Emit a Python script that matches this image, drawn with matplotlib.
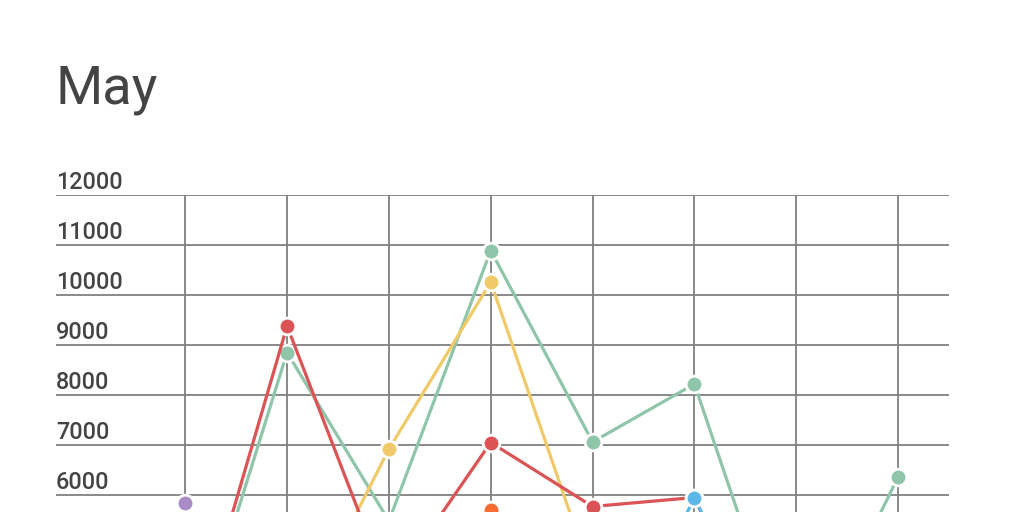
import matplotlib
matplotlib.use("Agg")
import matplotlib.pyplot as plt
import matplotlib.transforms as mtransforms
import numpy as np

# category positions (one per vertical grid line)
positions = [1, 2, 3, 4, 5, 6, 7, 8]
nan = np.nan

# values (points below the crop are estimated from slopes)
green = [2300, 8850, 5480, 10890, 7060, 8220, 2200, 6360]
yellow = [nan, 2900, 6920, 10260, 4320, nan, nan, nan]
red = [2400, 9380, 4100, 7050, 5770, 5950, 1500, nan]
blue = [nan, nan, nan, nan, 1860, 5940, 1800, nan]
orange = [nan, nan, nan, 5700, nan, nan, nan, nan]
purple = [5840, nan, nan, nan, nan, nan, nan, nan]

series = [
    (green, "#8fc5a9"),
    (yellow, "#f0ca68"),
    (red, "#dc5356"),
    (blue, "#5db7e8"),
    (orange, "#f96c34"),
    (purple, "#a98cc7"),
]

y_ticks = list(range(0, 13000, 1000))

plt.rcParams["font.family"] = ["Roboto", "DejaVu Sans"]

fig = plt.figure(figsize=(10.24, 5.12), dpi=100)
# axes runs past the bottom of the figure, like the cropped original
ax = fig.add_axes([56 / 1024, -283 / 512, 893 / 1024, 600 / 512])
ax.set_xlim(-0.269, 8.5)
ax.set_ylim(0, 12000)

for s in ax.spines.values():
    s.set_visible(False)
ax.set_xticks(positions)
ax.set_yticks(y_ticks)
ax.tick_params(length=0, labelbottom=False, labelleft=False)
ax.grid(True, color="#808080", lw=1.3, zorder=0)

for vals, col in series:
    ax.plot(positions, vals, color=col, lw=2.3, marker="o", markersize=12,
            markerfacecolor=col, markeredgecolor="white", markeredgewidth=2,
            zorder=3, clip_on=False)

# y labels sit above their grid lines, left aligned
trans = mtransforms.blended_transform_factory(ax.transAxes, ax.transData)
for v in y_ticks:
    ax.annotate(str(v), (0, v), xycoords=trans, xytext=(0, 4.2),
                textcoords="offset points", ha="left", va="baseline",
                fontsize=16.8, fontweight="medium", color="#444444")

fig.text(0.054, 0.798, "May", fontsize=39, color="#444444", ha="left", va="baseline")

fig.savefig("out.png", dpi=100)
